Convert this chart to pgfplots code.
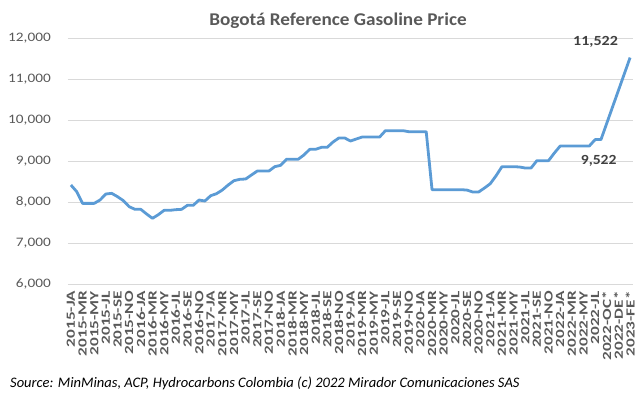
\documentclass[border=0pt]{standalone}
\usepackage{fontspec}
\setmainfont{Carlito}
\usepackage{pgfplots}
\usepackage{pgfplotstable}
\pgfplotsset{compat=1.18}
\definecolor{lineblue}{HTML}{5B9BD5}
\definecolor{gridgrey}{HTML}{D9D9D9}
\definecolor{txtgrey}{HTML}{595959}
\definecolor{lblgrey}{HTML}{404040}
\pgfplotstableread{
idx price
0 8415
1 8252
2 7967
3 7967
4 7967
5 8049
6 8195
7 8211
8 8130
9 8033
10 7886
11 7821
12 7821
13 7707
14 7602
15 7690
16 7797
17 7797
18 7813
19 7821
20 7919
21 7919
22 8049
23 8024
24 8154
25 8203
26 8293
27 8415
28 8520
29 8553
30 8561
31 8659
32 8756
33 8756
34 8756
35 8862
36 8894
37 9041
38 9041
39 9041
40 9146
41 9285
42 9285
43 9333
44 9333
45 9463
46 9561
47 9561
48 9488
49 9537
50 9585
51 9585
52 9585
53 9585
54 9740
55 9740
56 9740
57 9740
58 9715
59 9715
60 9715
61 9715
62 8301
63 8301
64 8301
65 8301
66 8301
67 8301
68 8290
69 8244
70 8244
71 8341
72 8447
73 8642
74 8862
75 8862
76 8862
77 8854
78 8829
79 8829
80 9008
81 9008
82 9008
83 9195
84 9366
85 9366
86 9366
87 9366
88 9366
89 9366
90 9522
91 9522
92 9922
93 10322
94 10722
95 11122
96 11522
}\pricedata
\begin{document}
\begin{tikzpicture}
\path[use as bounding box] (-68bp,-114bp) rectangle (575bp,284bp);
\begin{axis}[
  at={(0,0)}, anchor=south west,
  scale only axis, width=565bp, height=246bp,
  xmin=-0.5, xmax=96.5, ymin=6000, ymax=12000,
  axis line style={draw=none},
  ytick={6000,7000,...,12000},
  scaled y ticks=false,
  ymajorgrids, grid style={gridgrey, line width=0.75bp},
  xtick={0,2,...,96},
  xticklabels={2015-JA,2015-MR,2015-MY,2015-JL,2015-SE,2015-NO,
    2016-JA,2016-MR,2016-MY,2016-JL,2016-SE,2016-NO,
    2017-JA,2017-MR,2017-MY,2017-JL,2017-SE,2017-NO,
    2018-JA,2018-MR,2018-MY,2018-JL,2018-SE,2018-NO,
    2019-JA,2019-MR,2019-MY,2019-JL,2019-SE,2019-NO,
    2020-JA,2020-MR,2020-MY,2020-JL,2020-SE,2020-NO,
    2021-JA,2021-MR,2021-MY,2021-JL,2021-SE,2021-NO,
    2022-JA,2022-MR,2022-MY,2022-JL,2022-OC*,2022-DE*,2023-FE*},
  major tick length=0pt,
  xticklabel shift=7bp,
  xticklabel style={rotate=90, xscale=1.38, anchor=east, font=\fontsize{12.5}{12.5}\selectfont\bfseries, text=txtgrey, inner sep=0pt},
  yticklabel shift=17bp,
  yticklabel style={anchor=east, xscale=1.18, font=\fontsize{13}{13}\selectfont, text=txtgrey, inner sep=0pt},
  /pgf/number format/1000 sep={,},
  /pgf/number format/assume math mode=true,
  clip=false,
]
\addplot[lineblue, line width=2.8bp, line join=round] table[x=idx, y=price] {\pricedata};
\node[font=\fontsize{14}{14}\selectfont\bfseries, xscale=1.15, text=lblgrey, xshift=-30bp, yshift=16bp] at (axis cs:96,11522) {11,522};
\node[font=\fontsize{14}{14}\selectfont\bfseries, xscale=1.12, text=lblgrey, xshift=-2bp, yshift=-21bp] at (axis cs:91,9522) {9,522};
\end{axis}
\node[font=\fontsize{18}{18}\selectfont\bfseries, xscale=1.07, text=txtgrey] at (270bp,263bp) {Bogotá Reference Gasoline Price};
\node[anchor=west, font=\fontsize{14.6}{14.6}\selectfont\itshape, text=black, inner sep=0pt] at (-58bp,-99bp) {Source: MinMinas, ACP, Hydrocarbons Colombia (c) 2022 Mirador Comunicaciones SAS};
\end{tikzpicture}
\end{document}
